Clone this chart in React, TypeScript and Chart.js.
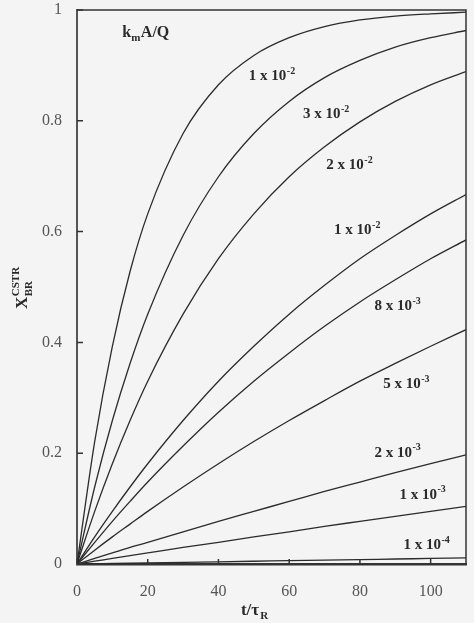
import React, { useEffect, useRef } from "react";
import { Chart, registerables } from "chart.js";
Chart.register(...registerables);

// time axis t/tau_R
const tValues = [0, 5, 10, 15, 20, 30, 40, 50, 60, 70, 80, 90, 100, 110];
// X_BR^CSTR (top to bottom)
const curveA = [0, 0.221, 0.393, 0.528, 0.632, 0.777, 0.865, 0.918, 0.95, 0.97, 0.982, 0.989, 0.993, 0.996];
const curveB = [0, 0.139, 0.259, 0.362, 0.451, 0.593, 0.699, 0.777, 0.835, 0.878, 0.909, 0.933, 0.95, 0.963];
const curveC = [0, 0.095, 0.181, 0.259, 0.33, 0.451, 0.551, 0.632, 0.699, 0.753, 0.798, 0.835, 0.865, 0.889];
const curveD = [0, 0.049, 0.095, 0.139, 0.181, 0.259, 0.33, 0.393, 0.451, 0.503, 0.551, 0.593, 0.632, 0.667];
const curveE = [0, 0.039, 0.077, 0.113, 0.148, 0.213, 0.274, 0.33, 0.381, 0.429, 0.473, 0.513, 0.551, 0.585];
const curveF = [0, 0.025, 0.049, 0.072, 0.095, 0.139, 0.181, 0.221, 0.259, 0.295, 0.33, 0.362, 0.393, 0.423];
const curveG = [0, 0.01, 0.02, 0.03, 0.039, 0.058, 0.077, 0.095, 0.113, 0.131, 0.148, 0.165, 0.181, 0.197];
const curveH = [0, 0.005, 0.01, 0.015, 0.02, 0.03, 0.039, 0.049, 0.058, 0.068, 0.077, 0.086, 0.095, 0.104];
const curveI = [0, 0.0005, 0.001, 0.0015, 0.002, 0.003, 0.004, 0.005, 0.006, 0.007, 0.008, 0.009, 0.01, 0.011];
const allCurves = [curveA, curveB, curveC, curveD, curveE, curveF, curveG, curveH, curveI];

// curve labels
const labelMantissa = ["1 x 10", "3 x 10", "2 x 10", "1 x 10", "8 x 10", "5 x 10", "2 x 10", "1 x 10", "1 x 10"];
const labelExponent = ["-2", "-2", "-2", "-2", "-3", "-3", "-3", "-3", "-4"];
const labelT = [48.6, 63.9, 70.5, 72.7, 84.1, 86.6, 84.1, 91.2, 92.3];
const labelV = [0.881, 0.812, 0.72, 0.602, 0.465, 0.324, 0.201, 0.125, 0.034];
const legendTitleT = 12.8;
const legendTitleV = 0.958;

const xTicks = [0, 20, 40, 60, 80, 100];
const yTicks = [0, 0.2, 0.4, 0.6, 0.8, 1];

const SERIF = '"Liberation Serif", "DejaVu Serif", serif';
const BG = "#f4f4f4";
const INK = "#2a2a2a";

const decorPlugin = {
  id: "decor",
  beforeDraw(chart: any) {
    const ctx = chart.ctx;
    ctx.save();
    ctx.fillStyle = BG;
    ctx.fillRect(0, 0, chart.width, chart.height);
    ctx.restore();
  },
  afterDraw(chart: any) {
    const ctx = chart.ctx;
    const a = chart.chartArea;
    const xs = chart.scales.x;
    const ys = chart.scales.y;
    ctx.save();
    // frame top/right
    ctx.strokeStyle = "#333";
    ctx.lineWidth = 1.5;
    ctx.beginPath();
    ctx.moveTo(a.left, a.top);
    ctx.lineTo(a.right, a.top);
    ctx.lineTo(a.right, a.bottom);
    ctx.stroke();
    // inward ticks
    ctx.lineWidth = 1.5;
    ctx.strokeStyle = "#333";
    ctx.beginPath();
    xTicks.forEach((t) => {
      const px = xs.getPixelForValue(t);
      ctx.moveTo(px, a.bottom);
      ctx.lineTo(px, a.bottom - 5);
    });
    yTicks.forEach((v) => {
      const py = ys.getPixelForValue(v);
      ctx.moveTo(a.left, py);
      ctx.lineTo(a.left + 6, py);
    });
    ctx.stroke();

    // curve labels
    ctx.fillStyle = INK;
    ctx.textBaseline = "middle";
    ctx.textAlign = "left";
    labelMantissa.forEach((m, i) => {
      const px = xs.getPixelForValue(labelT[i]);
      const py = ys.getPixelForValue(labelV[i]);
      ctx.font = "bold 15px " + SERIF;
      ctx.fillText(m, px, py);
      const w = ctx.measureText(m).width;
      ctx.font = "bold 10px " + SERIF;
      ctx.fillText(labelExponent[i], px + w + 0.5, py - 5);
    });

    // legend title k_m A/Q
    {
      const px = xs.getPixelForValue(legendTitleT);
      const py = ys.getPixelForValue(legendTitleV);
      ctx.font = "bold 16px " + SERIF;
      ctx.fillText("k", px, py);
      const w = ctx.measureText("k").width;
      ctx.font = "bold 11px " + SERIF;
      ctx.fillText("m", px + w, py + 5);
      const w2 = ctx.measureText("m").width;
      ctx.font = "bold 16px " + SERIF;
      ctx.fillText("A/Q", px + w + w2 + 0.5, py);
    }

    // x title t/τ_R
    {
      ctx.font = "bold 17px " + SERIF;
      const main = "t/τ";
      const wMain = ctx.measureText(main).width;
      ctx.font = "bold 11px " + SERIF;
      const wSub = ctx.measureText("R").width;
      const total = wMain + wSub + 1;
      const x0 = (a.left + a.right) / 2 - total / 2 - 17;
      const y0 = a.bottom + 47;
      ctx.font = "bold 17px " + SERIF;
      ctx.fillText(main, x0, y0);
      ctx.font = "bold 11px " + SERIF;
      ctx.fillText("R", x0 + wMain + 1, y0 + 5);
    }

    // y title X_BR^CSTR rotated
    {
      ctx.translate(27, 309);
      ctx.rotate(-Math.PI / 2);
      ctx.textBaseline = "alphabetic";
      ctx.font = "bold 17px " + SERIF;
      ctx.fillText("X", 0, 0);
      const wX = ctx.measureText("X").width;
      ctx.font = "bold 11px " + SERIF;
      ctx.fillText("CSTR", wX + 0.5, -8);
      ctx.fillText("BR", wX + 0.5, 5);
    }
    ctx.restore();
  },
};

export default function App() {
  const ref = useRef<HTMLCanvasElement | null>(null);
  useEffect(() => {
    document.body.style.margin = "0";
    document.body.style.background = BG;
    const canvas = ref.current;
    if (!canvas) return;
    const datasets = allCurves.map((c, i) => ({
      label: labelMantissa[i] + labelExponent[i],
      data: c.map((v, j) => ({ x: tValues[j], y: v })),
      borderColor: "#2b2b2b",
      borderWidth: 1.3,
      pointRadius: 0,
      fill: false,
      cubicInterpolationMode: "monotone" as const,
    }));
    const chart = new Chart(canvas, {
      type: "line",
      data: { datasets },
      options: {
        responsive: false,
        animation: false,
        layout: { padding: { top: 10, right: 8, left: 0, bottom: 0 } },
        plugins: { legend: { display: false }, tooltip: { enabled: false } },
        scales: {
          x: {
            type: "linear",
            min: 0,
            max: 110,
            afterFit: (s: any) => {
              s.height = 59;
              s.paddingLeft = 0;
              s.paddingRight = 0;
            },
            afterBuildTicks: (s: any) => {
              s.ticks = xTicks.map((v) => ({ value: v }));
            },
            grid: { display: true, drawOnChartArea: false, drawTicks: false },
            border: { display: true, color: "#333", width: 2.5 },
            ticks: {
              padding: 18,
              color: "#555",
              font: { family: SERIF, size: 16 },
              callback: (v: any) => String(v),
            },
          },
          y: {
            type: "linear",
            min: 0,
            max: 1,
            afterFit: (s: any) => {
              s.width = 77;
              s.paddingTop = 0;
              s.paddingBottom = 0;
            },
            afterBuildTicks: (s: any) => {
              s.ticks = yTicks.map((v) => ({ value: v }));
            },
            grid: { display: true, drawOnChartArea: false, drawTicks: false },
            border: { display: true, color: "#555", width: 2 },
            ticks: {
              padding: 15,
              color: "#555",
              font: { family: SERIF, size: 16 },
              callback: (v: any) => String(Math.round(v * 10) / 10),
            },
          },
        },
      },
      plugins: [decorPlugin],
    });
    return () => chart.destroy();
  }, []);
  return (
    <div style={{ width: 474, height: 623 }}>
      <canvas ref={ref} width={474} height={623} style={{ display: "block" }} />
    </div>
  );
}
